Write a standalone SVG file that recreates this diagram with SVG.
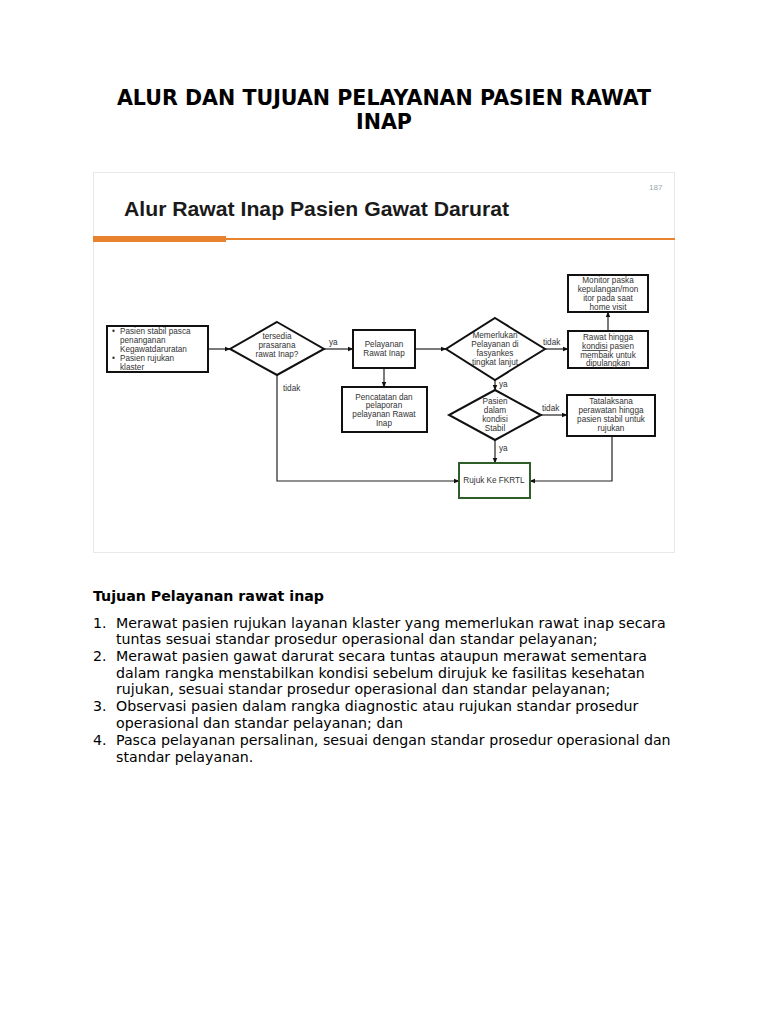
<svg xmlns="http://www.w3.org/2000/svg" width="768" height="1024" viewBox="0 0 768 1024">
<defs>
<marker id="ah" viewBox="0 0 10 10" refX="9" refY="5" markerWidth="5" markerHeight="5" orient="auto"><path d="M0,1 L10,5 L0,9 z" fill="#111"/></marker>
<style>
.pt{font-family:"DejaVu Sans",sans-serif;font-weight:bold;font-size:20.6px;fill:#000;text-anchor:middle}
.st{font-family:"Liberation Sans",sans-serif;font-weight:bold;font-size:20px;fill:#1a1a1a}
.n{fill:#fff;stroke:#111;stroke-width:2}
.t{font-family:"Liberation Sans",sans-serif;font-size:8.2px;fill:#333;text-anchor:middle}
.tl{font-family:"Liberation Sans",sans-serif;font-size:8.2px;fill:#333}
.c{fill:none;stroke:#222;stroke-width:1.2;marker-end:url(#ah)}
.b{font-family:"DejaVu Sans",sans-serif;font-size:14.2px;fill:#000}
.bh{font-family:"DejaVu Sans",sans-serif;font-size:14.2px;font-weight:bold;fill:#000}
</style>
</defs>
<rect width="768" height="1024" fill="#fff"/>
<text class="pt" x="384" y="105">ALUR DAN TUJUAN PELAYANAN PASIEN RAWAT</text>
<text class="pt" x="384" y="129">INAP</text>

<rect x="93.5" y="172.5" width="581" height="380" fill="#fff" stroke="#e8e8e8"/>
<text class="st" x="124" y="216" textLength="385" lengthAdjust="spacingAndGlyphs">Alur Rawat Inap Pasien Gawat Darurat</text>
<text x="649" y="190" font-family="Liberation Sans,sans-serif" font-size="8px" fill="#9aa">187</text>
<rect x="93" y="236" width="133" height="6" fill="#e8822e"/>
<rect x="226" y="238" width="449" height="2" fill="#e8822e"/>

<g id="connectors">
<path class="c" d="M208,349 H230"/>
<path class="c" d="M324,349 H353"/>
<path class="c" d="M384,368 V387"/>
<path class="c" d="M415,349 H446"/>
<path class="c" d="M545,349 H568"/>
<path class="c" d="M608,331 V312"/>
<path class="c" d="M495,380 V390"/>
<path class="c" d="M541,415 H567"/>
<path class="c" d="M495,440 V463"/>
<path class="c" d="M277,375 V481 H459"/>
<path class="c" d="M612,436 V481 H530"/>
<text class="tl" x="329" y="345">ya</text>
<text class="tl" x="543" y="345">tidak</text>
<text class="tl" x="499" y="387">ya</text>
<text class="tl" x="542" y="411">tidak</text>
<text class="tl" x="499" y="451">ya</text>
<text class="tl" x="283" y="391">tidak</text>
</g>

<g id="start">
<rect class="n" x="107" y="326" width="101" height="46"/>
<text class="tl" x="112" y="334">•</text>
<text class="tl" x="120" y="334">Pasien stabil pasca</text>
<text class="tl" x="120" y="343">penanganan</text>
<text class="tl" x="120" y="352">Kegawatdaruratan</text>
<text class="tl" x="112" y="361">•</text>
<text class="tl" x="120" y="361">Pasien rujukan</text>
<text class="tl" x="120" y="370">klaster</text>
</g>

<g id="d1">
<polygon class="n" points="277,322 324,349 277,375 230,349"/>
<text class="t" x="277" y="339">tersedia</text>
<text class="t" x="277" y="348">prasarana</text>
<text class="t" x="277" y="357">rawat Inap?</text>
</g>

<g id="pelayanan">
<rect class="n" x="353" y="330" width="62" height="38"/>
<text class="t" x="384" y="347">Pelayanan</text>
<text class="t" x="384" y="356">Rawat Inap</text>
</g>

<g id="pencatatan">
<rect class="n" x="342" y="387" width="85" height="45"/>
<text class="t" x="384" y="400">Pencatatan dan</text>
<text class="t" x="384" y="408">pelaporan</text>
<text class="t" x="384" y="417">pelayanan Rawat</text>
<text class="t" x="384" y="426">Inap</text>
</g>

<g id="d2">
<polygon class="n" points="495,318 545,349 495,380 446,349"/>
<text class="t" x="495" y="338">Memerlukan</text>
<text class="t" x="495" y="347">Pelayanan di</text>
<text class="t" x="495" y="356">fasyankes</text>
<text class="t" x="495" y="365">tingkat lanjut</text>
</g>

<g id="rawat">
<rect class="n" x="568" y="331" width="80" height="37"/>
<text class="t" x="608" y="340">Rawat hingga</text>
<text class="t" x="608" y="349"><tspan text-decoration="underline">kondisi</tspan> pasien</text>
<text class="t" x="608" y="358">membaik untuk</text>
<text class="t" x="608" y="366">dipulangkan</text>
</g>

<g id="monitor">
<rect class="n" x="568" y="275" width="80" height="37"/>
<text class="t" x="608" y="283">Monitor paska</text>
<text class="t" x="608" y="292">kepulangan/mon</text>
<text class="t" x="608" y="301">itor pada saat</text>
<text class="t" x="608" y="310">home visit</text>
</g>

<g id="d3">
<polygon class="n" points="495,390 541,415 495,440 449,415"/>
<text class="t" x="495" y="404">Pasien</text>
<text class="t" x="495" y="413">dalam</text>
<text class="t" x="495" y="422">kondisi</text>
<text class="t" x="495" y="431">Stabil</text>
</g>

<g id="tatalaksana">
<rect class="n" x="567" y="395" width="88" height="41"/>
<text class="t" x="611" y="404">Tatalaksana</text>
<text class="t" x="611" y="413">perawatan  hingga</text>
<text class="t" x="611" y="422">pasien stabil untuk</text>
<text class="t" x="611" y="431">rujukan</text>
</g>

<g id="rujuk">
<rect x="459" y="463" width="71" height="35" fill="#fff" stroke="#2f5e2a" stroke-width="2"/>
<text class="t" x="494" y="483">Rujuk Ke FKRTL</text>
</g>

<text class="bh" x="93" y="601">Tujuan Pelayanan rawat inap</text>
<g>
<text class="b" x="93" y="628">1.</text>
<text class="b" x="116" y="628">Merawat pasien rujukan layanan klaster yang memerlukan rawat inap secara</text>
<text class="b" x="116" y="644">tuntas sesuai standar prosedur operasional dan standar pelayanan;</text>
<text class="b" x="93" y="661">2.</text>
<text class="b" x="116" y="661">Merawat pasien gawat darurat secara tuntas ataupun merawat sementara</text>
<text class="b" x="116" y="678">dalam rangka menstabilkan kondisi sebelum dirujuk ke fasilitas kesehatan</text>
<text class="b" x="116" y="694">rujukan, sesuai standar prosedur operasional dan standar pelayanan;</text>
<text class="b" x="93" y="711">3.</text>
<text class="b" x="116" y="711">Observasi pasien dalam rangka diagnostic atau rujukan standar prosedur</text>
<text class="b" x="116" y="728">operasional dan standar pelayanan; dan</text>
<text class="b" x="93" y="745">4.</text>
<text class="b" x="116" y="745">Pasca pelayanan persalinan, sesuai dengan standar prosedur operasional dan</text>
<text class="b" x="116" y="762">standar pelayanan.</text>
</g>
</svg>
